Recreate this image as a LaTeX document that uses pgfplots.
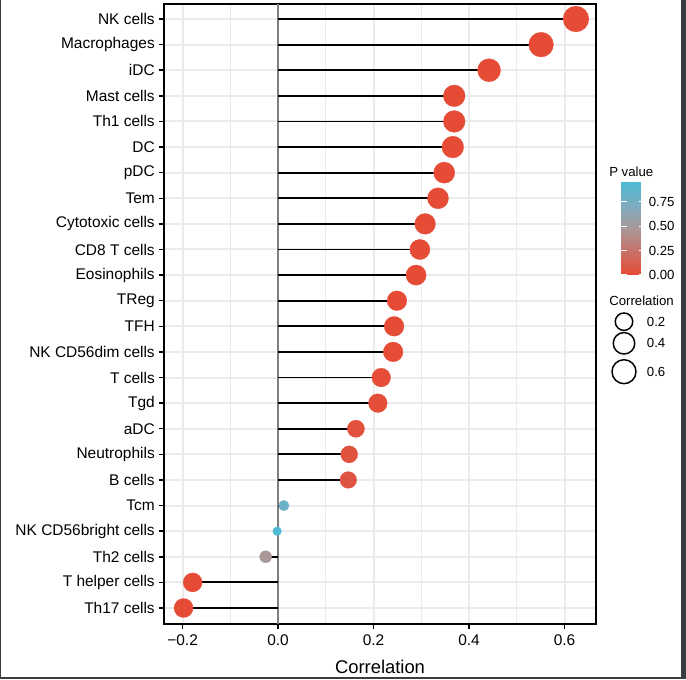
\documentclass[border=0pt]{standalone}
\usepackage{fontspec}
\setmainfont{Liberation Sans}
\usepackage{pgfplots}
\usepackage{pgfplotstable}
\pgfplotsset{compat=1.18}

\definecolor{gridgray}{RGB}{235,235,235}
\definecolor{zerogray}{RGB}{128,128,128}
\definecolor{framedark}{RGB}{58,61,64}

% y: row (1 = top), x: correlation, d: point diameter (px), p: P value
\pgfplotstableread{
y  x       d     p
1  0.624   26.0  0.000
2  0.551   25.0  0.000
3  0.442   23.3  0.000
4  0.369   22.0  0.000
5  0.369   22.0  0.000
6  0.366   22.0  0.000
7  0.348   21.4  0.000
8  0.335   21.3  0.000
9  0.308   21.0  0.001
10 0.297   20.4  0.001
11 0.289   20.5  0.001
12 0.249   20.0  0.003
13 0.243   20.0  0.004
14 0.241   20.0  0.004
15 0.216   19.0  0.010
16 0.209   19.0  0.012
17 0.163   17.5  0.040
18 0.149   17.3  0.050
19 0.147   17.0  0.055
20 0.012   10.7  0.800
21 -0.002  9.0   0.955
22 -0.026  12.3  0.480
23 -0.179  19.3  0.002
24 -0.198  19.3  0.001
}\corrdata

\newcommand\tickfont{\fontsize{11.6}{13.9}\selectfont}
\newcommand\legfont{\fontsize{9.9}{11.9}\selectfont}

\begin{document}
\begin{tikzpicture}
\begin{axis}[
  at={(0,0)}, anchor=south west,
  scale only axis,
  width=324pt, height=465pt,
  xmin=-0.239, xmax=0.666,
  ymin=0.414, ymax=24.625,
  y dir=reverse,
  axis line style={black, line width=1.4pt},
  xtick={-0.2,0,0.2,0.4,0.6},
  xticklabels={−0.2,0.0,0.2,0.4,0.6},
  minor xtick={-0.1,0.1,0.3,0.5},
  ytick={1,...,24},
  yticklabels={NK cells,Macrophages,iDC,Mast cells,Th1 cells,DC,pDC,Tem,
    Cytotoxic cells,CD8 T cells,Eosinophils,TReg,TFH,NK CD56dim cells,T cells,
    Tgd,aDC,Neutrophils,B cells,Tcm,NK CD56bright cells,Th2 cells,
    T helper cells,Th17 cells},
  tick pos=left,
  tick align=outside,
  major tick length=3.4pt,
  minor tick length=0pt,
  tick style={black, line width=1.1pt},
  ticklabel style={font=\tickfont, text=black},
  xticklabel style={yshift=-1pt},
  xmajorgrids, ymajorgrids, xminorgrids,
  major grid style={gridgray, line width=1.5pt},
  minor grid style={gridgray, line width=1.0pt},
  xlabel={Correlation},
  xlabel style={font=\fontsize{13.8}{16.5}\selectfont, yshift=-4pt},
  colormap={pvalue}{rgb255(0cm)=(230,75,53); rgb255(1cm)=(200,112,102);
    rgb255(2cm)=(170,152,152); rgb255(3cm)=(124,172,192); rgb255(4cm)=(77,187,213)},
  point meta min=0, point meta max=0.955,
  colorbar,
  colorbar style={
    at={(parent axis.south west)}, anchor=south west,
    xshift=334.5pt, yshift=261.75pt,
    width=17pt, height=70pt,
    ytick={0,0.25,0.5,0.75},
    yticklabels={0.00,0.25,0.50,0.75},
    axis line style={draw=none},
    ytick pos=both, yticklabel pos=right,
    tick align=inside,
    major tick length=4pt,
    ytick style={white, line width=0.8pt},
    yticklabel style={font=\legfont, text=black},
  },
]
% reference line at zero
\addplot[zerogray, line width=1.3pt, forget plot] coordinates {(0,0.414) (0,24.625)};
% stems
\addplot[xcomb, black, line width=1.4pt, no marks] table[x=x, y=y] {\corrdata};
% points: colour = P value, size = correlation
\addplot[
  scatter, only marks, mark=*,
  mark options={line width=0.2pt},
  point meta=\thisrow{p},
  visualization depends on={\thisrow{d} \as \diam},
  scatter/use mapped color={draw=mapped color, fill=mapped color},
  scatter/@pre marker code/.append style={/tikz/mark size={0.375*\diam-0.1}},
] table[x=x, y=y] {\corrdata};
\end{axis}

\begin{scope}[x=0.75pt, y=0.75pt]
  % legend titles
  \node[anchor=west, font=\legfont, inner sep=0pt] at (445,452) {P value};
  \node[anchor=west, font=\legfont, inner sep=0pt] at (445,323) {Correlation};
  % size key
  \draw[black, line width=1.1pt] (460,302.3) circle[radius=6.56pt];
  \draw[black, line width=1.1pt] (460,280.7) circle[radius=8.06pt];
  \draw[black, line width=1.1pt] (460,252.3) circle[radius=9.0pt];
  \node[anchor=west, font=\legfont, inner sep=0pt] at (482.7,302.3) {0.2};
  \node[anchor=west, font=\legfont, inner sep=0pt] at (482.7,280.7) {0.4};
  \node[anchor=west, font=\legfont, inner sep=0pt] at (482.7,252.3) {0.6};
  % outer frame
  \fill[framedark] (-164,-55) rectangle (-162.7,624);
  \fill[framedark] (517,-55) rectangle (522,624);
  \fill[framedark] (-164,-55) rectangle (522,-52.5);
  \path[use as bounding box] (-164,-55) rectangle (522,624);
\end{scope}
\end{tikzpicture}
\end{document}
